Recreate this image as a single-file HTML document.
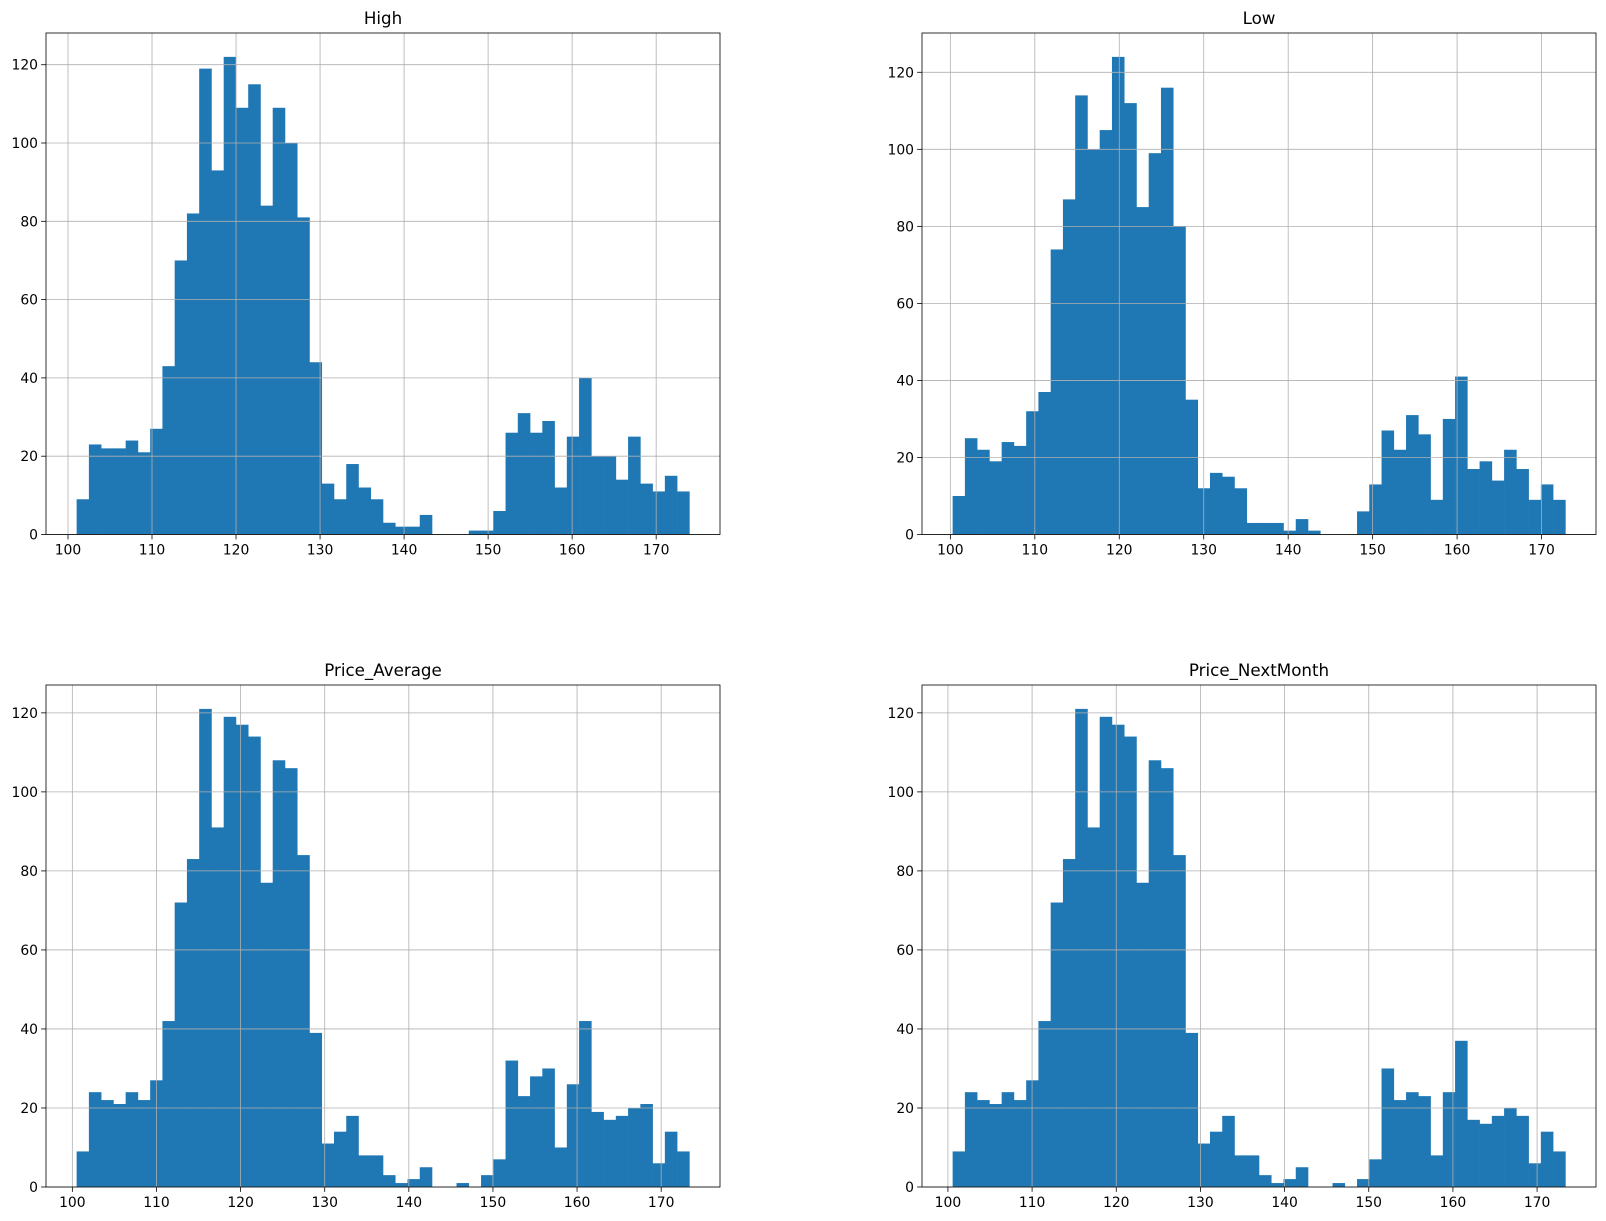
<!DOCTYPE html>
<html><head><meta charset="utf-8">
<style>
html,body{margin:0;padding:0;background:#fff;}
svg{display:block;font-family:"DejaVu Sans","Liberation Sans",sans-serif;}
</style></head>
<body>
<svg id="fig" width="1606" height="1221" viewBox="0 0 1606 1221" xmlns="http://www.w3.org/2000/svg"></svg>
<script>
const titles = ["High","Low","Price_Average","Price_NextMonth"];
const binRanges = [[101.03,173.95],[100.27,172.82],[100.51,173.35],[100.56,173.36]];
const highCounts = [9,23,22,22,24,21,27,43,70,82,119,93,122,109,115,84,109,100,81,44,13,9,18,12,9,3,2,2,5,0,0,0,1,1,6,26,31,26,29,12,25,40,20,20,14,25,13,11,15,11];
const lowCounts = [10,25,22,19,24,23,32,37,74,87,114,100,105,124,112,85,99,116,80,35,12,16,15,12,3,3,3,1,4,1,0,0,0,6,13,27,22,31,26,9,30,41,17,19,14,22,17,9,13,9];
const avgCounts = [9,24,22,21,24,22,27,42,72,83,121,91,119,117,114,77,108,106,84,39,11,14,18,8,8,3,1,2,5,0,0,1,0,3,7,32,23,28,30,10,26,42,19,17,18,20,21,6,14,9];
const nextCounts = [9,24,22,21,24,22,27,42,72,83,121,91,119,117,114,77,108,106,84,39,11,14,18,8,8,3,1,2,5,0,0,1,0,2,7,30,22,24,23,8,24,37,17,16,18,20,18,6,14,9];
const xTicks = [100,110,120,130,140,150,160,170];
const yTicks = [0,20,40,60,80,100,120];

const NS = "http://www.w3.org/2000/svg";
const svg = document.getElementById("fig");
function mk(tag, attrs, parent){
  const e = document.createElementNS(NS, tag);
  for (const k in attrs) e.setAttribute(k, attrs[k]);
  (parent||svg).appendChild(e);
  return e;
}
const boxes = [
  {l:46,r:720,t:33,b:534.5},
  {l:922,r:1596,t:33,b:534.5},
  {l:46,r:720,t:685,b:1187},
  {l:922,r:1596,t:685,b:1187}
];
const allCounts = [highCounts, lowCounts, avgCounts, nextCounts];
const names = ["high","low","price-average","price-nextmonth"];

allCounts.forEach((counts, i) => {
  const bx = boxes[i];
  const lo = binRanges[i][0], hi = binRanges[i][1];
  const margin = (hi - lo) * 0.05;
  const x0 = lo - margin, x1 = hi + margin;
  const ymax = Math.max(...counts) * 1.05;
  const sx = v => bx.l + (v - x0) / (x1 - x0) * (bx.r - bx.l);
  const sy = v => bx.b - v / ymax * (bx.b - bx.t);
  const g = mk("g", {});
  
  
  const bw = (hi - lo) / counts.length;
  counts.forEach((c, k) => {
    if (c <= 0) return;
    const a = sx(lo + k * bw), b = sx(lo + (k + 1) * bw);
    const r = mk("rect", {x:a, y:sy(c), width:b - a + 0.3, height:sy(0) - sy(c), fill:"#1f77b4"}, g);
    
    
  });
  xTicks.forEach(t => {
    const x = sx(t);
    const ln = mk("line", {x1:x, x2:x, y1:bx.t, y2:bx.b, stroke:"#b0b0b0", "stroke-width":0.8}, g);
    
    
    mk("line", {x1:x, x2:x, y1:bx.b, y2:bx.b + 4.9, stroke:"#000", "stroke-width":0.8}, g);
    const tx = mk("text", {x:x, y:bx.b + 20, "font-size":13.9, "text-anchor":"middle", fill:"#000"}, g);
    tx.textContent = t;
    
    
  });
  yTicks.forEach(t => {
    const y = sy(t);
    const ln = mk("line", {x1:bx.l, x2:bx.r, y1:y, y2:y, stroke:"#b0b0b0", "stroke-width":0.8}, g);
    
    
    mk("line", {x1:bx.l - 4.9, x2:bx.l, y1:y, y2:y, stroke:"#000", "stroke-width":0.8}, g);
    const tx = mk("text", {x:bx.l - 8, y:y + 5, "font-size":13.9, "text-anchor":"end", fill:"#000"}, g);
    tx.textContent = t;
    
    
  });
  const fr = mk("rect", {x:bx.l, y:bx.t, width:bx.r - bx.l, height:bx.b - bx.t, fill:"none", stroke:"#000", "stroke-width":0.8}, g);
  
  
  const tt = mk("text", {x:(bx.l + bx.r) / 2, y:bx.t - 9, "font-size":16.7, "text-anchor":"middle", fill:"#000"}, g);
  tt.textContent = titles[i];
  
  
});
</script>
</body></html>
